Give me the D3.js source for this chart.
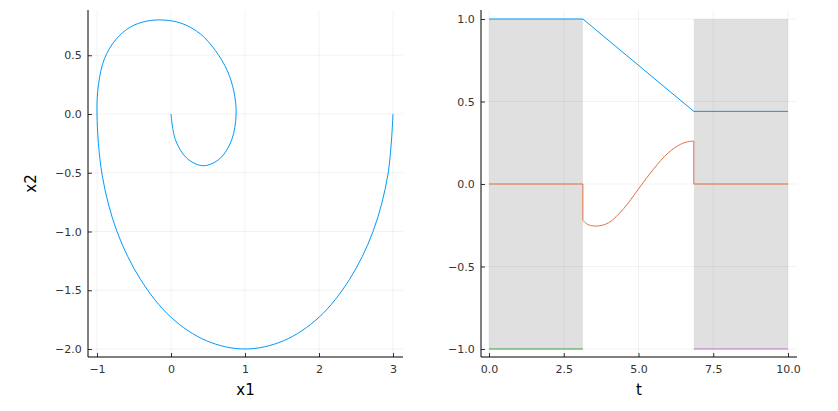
<!DOCTYPE html>
<html><head><meta charset="utf-8">
<script src="https://cdn.jsdelivr.net/npm/d3@7"></script>
<style>body{margin:0;background:#fff}text{font-family:"DejaVu Sans",sans-serif}</style>
</head><body><svg id="c" width="838" height="411"></svg>
<script>
const x1Ticks=[-1,0,1,2,3], x2Ticks=[-2,-1.5,-1,-0.5,0,0.5];
const tTicks=[0,2.5,5,7.5,10], yTicks=[-1,-0.5,0,0.5,1];
const spiralX1=[3,2.93,2.73,2.41,2,1.52,1,0.48,0,-0.41,-0.73,-0.93,-1,-0.98,-0.9,-0.75,-0.55,-0.33,-0.1,0.15,0.4,0.6,0.76,0.85,0.88,0.82,0.66,0.44,0.22,0.06,0];
const spiralX2=[0,-0.52,-1,-1.41,-1.73,-1.93,-2,-1.93,-1.73,-1.41,-1,-0.52,0,0.25,0.47,0.63,0.74,0.79,0.8,0.77,0.68,0.54,0.37,0.19,0,-0.22,-0.38,-0.44,-0.38,-0.22,0];
const shadeIntervals=[[0,3.14],[6.85,10]];
const u1T=[0,3.14,6.85,10], u1V=[1,1,0.44,0.44];
const u2T=[0,3.14,3.14,3.3,3.6,4,4.5,5,5.5,6,6.4,6.7,6.85,6.85,10];
const u2V=[0,0,-0.22,-0.245,-0.255,-0.235,-0.15,-0.03,0.09,0.19,0.24,0.258,0.26,0,0];
const u3T=[0,3.14], u3V=[-1,-1];
const u4T=[6.85,10], u4V=[-1,-1];

const svg=d3.select("#c");
function panel(L,R,T,B,xd,yd,xt,yt,xl,yl,xfmt){
  const x=d3.scaleLinear().domain(xd).range(L.r), y=d3.scaleLinear().domain(yd).range(T.r);
  const g=svg.append("g");
  xt.forEach(v=>g.append("line").attr("x1",x(v)).attr("x2",x(v)).attr("y1",T.top).attr("y2",B).attr("stroke","#000").attr("stroke-opacity",0.1).attr("stroke-width",0.5));
  yt.forEach(v=>g.append("line").attr("y1",y(v)).attr("y2",y(v)).attr("x1",L.left).attr("x2",R).attr("stroke","#000").attr("stroke-opacity",0.1).attr("stroke-width",0.5));
  const xa=g.append("g").attr("transform",`translate(0,${B})`).call(d3.axisBottom(x).tickValues(xt).tickSize(-4).tickFormat(xfmt));
  const ya=g.append("g").attr("transform",`translate(${L.left},0)`).call(d3.axisLeft(y).tickValues(yt).tickSize(-4).tickFormat(d3.format(".1f")));
  [xa,ya].forEach(a=>{a.select(".domain").remove();a.selectAll("text").attr("font-size",11).attr("fill","#333");a.selectAll("line").attr("stroke","#333")});
  xa.selectAll("text").attr("dy","1.2em");ya.selectAll("text").attr("dx","-0.3em");
  g.append("line").attr("x1",L.left).attr("x2",R).attr("y1",B).attr("y2",B).attr("stroke","#000");
  g.append("line").attr("x1",L.left).attr("x2",L.left).attr("y1",T.top).attr("y2",B).attr("stroke","#000");
  g.append("text").attr("x",(L.left+R)/2).attr("y",B+38).attr("text-anchor","middle").attr("font-size",15).text(xl);
  if(yl) g.append("text").attr("transform",`translate(${L.left-52},${(T.top+B)/2}) rotate(-90)`).attr("text-anchor","middle").attr("font-size",15).text(yl);
  return {x,y,g};
}
const p1=panel({left:88,r:[97,393]},403,{top:10,r:[114,349]},357,[-1,3],[0,-2],x1Ticks,x2Ticks,"x1","x2",d3.format("d"));
p1.g.append("path").attr("d",d3.line().curve(d3.curveCatmullRom).x((d,i)=>p1.x(spiralX1[i])).y((d,i)=>p1.y(spiralX2[i]))(spiralX1)).attr("fill","none").attr("stroke","#009af9").attr("stroke-width",1);
const p2=panel({left:481,r:[489,788]},797,{top:10,r:[349,19]},357,[0,10],[-1,1],tTicks,yTicks,"t",null,d3.format(".1f"));
shadeIntervals.forEach(s=>p2.g.insert("rect",":first-child").attr("x",p2.x(s[0])).attr("width",p2.x(s[1])-p2.x(s[0])).attr("y",p2.y(1)).attr("height",p2.y(-1)-p2.y(1)).attr("fill","#e0e0e0"));
function ln(T,V,c,curve){p2.g.append("path").attr("d",d3.line().curve(curve||d3.curveLinear).x((d,i)=>p2.x(T[i])).y((d,i)=>p2.y(V[i]))(T)).attr("fill","none").attr("stroke",c).attr("stroke-width",1);}
ln(u1T,u1V,"#009af9");
ln(u2T.slice(0,3),u2V.slice(0,3),"#e26f46");
ln(u2T.slice(2,13),u2V.slice(2,13),"#e26f46",d3.curveCatmullRom);
ln(u2T.slice(12),u2V.slice(12),"#e26f46");
ln(u3T,u3V,"#3da44d");
ln(u4T,u4V,"#c271d2");
</script></body></html>
